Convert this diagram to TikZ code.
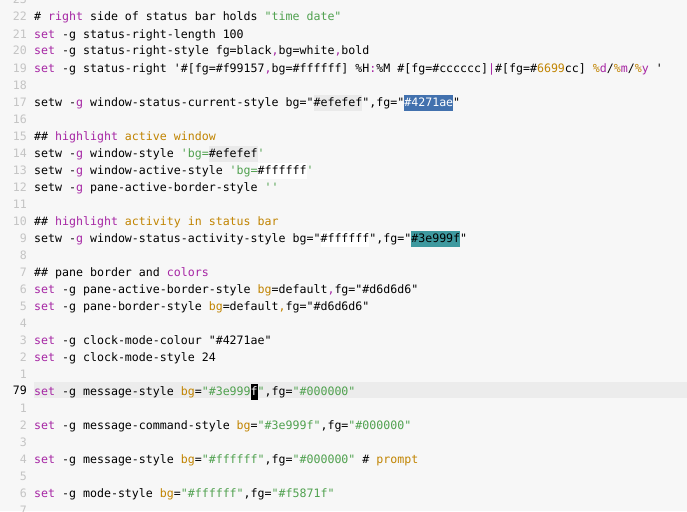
\documentclass[tikz,border=0pt]{standalone}
\usepackage{fontspec}
\setmonofont{DejaVu Sans Mono}
\definecolor{bgc}{HTML}{F7F7F7}
\definecolor{curl}{HTML}{ECECEC}
\definecolor{kp}{HTML}{A626A4}
\definecolor{kg}{HTML}{50A14F}
\definecolor{ko}{HTML}{C18401}
\definecolor{lnc}{HTML}{C4C4C4}
\definecolor{efc}{HTML}{EAEAEA}
\definecolor{selb}{HTML}{4271AE}
\definecolor{selt}{HTML}{3E999F}
\newcommand\Kp[1]{\textcolor{kp}{#1}}
\newcommand\Kg[1]{\textcolor{kg}{#1}}
\newcommand\Ko[1]{\textcolor{ko}{#1}}
\newcommand\Hl[2]{{\setlength\fboxsep{0pt}\colorbox{#1}{\rule[-4.5pt]{0pt}{16pt}#2}}}
\tikzset{code/.style={anchor=base west,inner sep=0pt,font=\fontsize{11.6pt}{14pt}\ttfamily},
  lnum/.style={anchor=base east,inner sep=0pt,text=lnc,font=\fontsize{11.6pt}{14pt}\ttfamily}}
\begin{document}
\begin{tikzpicture}[x=1pt,y=-1pt]
\fill[bgc] (0,0) rectangle (687,511);
\useasboundingbox (0,0) rectangle (687,511);
\fill[curl] (34,382) rectangle (687,398);
\foreach \y/\n in {0/23,17/22,34/21,51/20,68/19,85/18,102/17,119/16,136/15,153/14,170/13,187/12,204/11,221/10,238/9,255/8,272/7,289/6,306/5,323/4,340/3,357/2,374/1,408/1,425/2,442/3,459/4,476/5,493/6,510/7}
  \node[lnum] (n\y) at (27,\y+4) {\n};
\node[lnum,text=black] (n390) at (27,394) {79};
\node[code] (l22) at (34,21) {\# \Kp{right} side of status bar holds \Kg{"time date"}};
\node[code] (l21) at (34,38) {\Kp{set} -g status-right-length 100};
\node[code] (l20) at (34,55) {\Kp{set} -g status-right-style fg=black\Kp{,}bg=white\Kp{,}bold};
\node[code] (l19) at (34,72) {\Kp{set} -g status-right '\#[fg=\#f99157\Kp{,}bg=\#ffffff] \%H\Kp{:}\%M \#[fg=\#cccccc]\Kp{|}\#[fg=\#\Ko{6699}cc] \Ko{\%}\Kp{d}/\Ko{\%}\Kp{m}/\Ko{\%}\Kp{y} '};
\node[code] (l17) at (34,106) {setw -\Kp{g} window-status-current-style bg="\Hl{efc}{\#efefef}",fg="\Hl{selb}{\textcolor{white}{\#4271ae}}"};
\node[code] (l15) at (34,140) {\#\# \Kp{highlight} \Ko{active window}};
\node[code] (l14) at (34,157) {setw -\Kp{g} window-style \Kg{'bg=}\Hl{efc}{\#efefef}\Kg{'}};
\node[code] (l13) at (34,174) {setw -\Kp{g} window-active-style \Kg{'bg=}\Hl{white}{\#ffffff}\Kg{'}};
\node[code] (l12) at (34,191) {setw -\Kp{g} pane-active-border-style \Kg{''}};
\node[code] (l10) at (34,225) {\#\# \Kp{highlight} \Ko{activity in status bar}};
\node[code] (l9) at (34,242) {setw -\Kp{g} window-status-activity-style bg="\Hl{white}{\#ffffff}",fg="\Hl{selt}{\#3e999f}"};
\node[code] (l7) at (34,276) {\#\# pane border and \Kp{colors}};
\node[code] (l6) at (34,293) {\Kp{set} -g pane-active-border-style \Ko{bg}=default\Kp{,}fg="\#d6d6d6"};
\node[code] (l5) at (34,310) {\Kp{set} -g pane-border-style \Ko{bg}=default\Ko{,}fg="\#d6d6d6"};
\node[code] (l3) at (34,344) {\Kp{set} -g clock-mode-colour "\#4271ae"};
\node[code] (l2) at (34,361) {\Kp{set} -g clock-mode-style 24};
\node[code] (l79) at (34,395) {\Kp{set} -g message-style \Ko{bg}=\Kg{"\#3e999}\Hl{black}{\textcolor{white}{f}}\Kg{"},fg=\Kg{"\#000000"}};
\node[code] (m2) at (34,429) {\Kp{set} -g message-command-style \Ko{bg}=\Kg{"\#3e999f"},fg=\Kg{"\#000000"}};
\node[code] (m4) at (34,463) {\Kp{set} -g message-style \Ko{bg}=\Kg{"\#ffffff"},fg=\Kg{"\#000000"} \# \Ko{prompt}};
\node[code] (m6) at (34,497) {\Kp{set} -g mode-style \Ko{bg}=\Kg{"\#ffffff"},fg=\Kg{"\#f5871f"}};
\end{tikzpicture}
\end{document}
